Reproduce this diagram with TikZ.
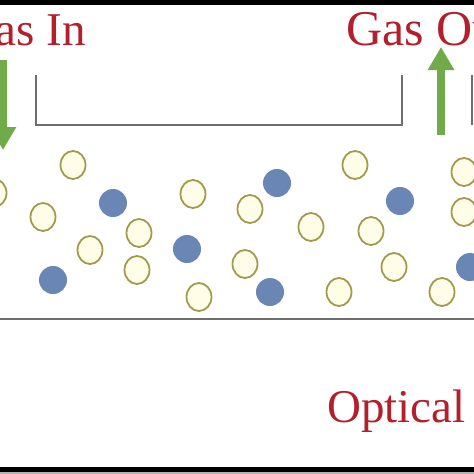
\documentclass[tikz,border=0pt]{standalone}
\usepackage{fontspec}
\setmainfont{Liberation Serif}
\usetikzlibrary{arrows.meta}

\definecolor{gasred}{HTML}{B3202C}
\definecolor{flowgreen}{HTML}{6FAB48}
\definecolor{molblue}{HTML}{6A86B4}
\definecolor{ringolive}{HTML}{A39A4E}
\definecolor{ringfill}{HTML}{FFFCE8}
\definecolor{wallgray}{HTML}{6E6E6E}

\tikzset{
  gastext/.style={text=gasred, font=\fontsize{47}{56}\selectfont, inner sep=0pt},
  flowarrow/.style={flowgreen, line width=8pt, -{Triangle[width=25pt,length=23pt]}},
  openmol/.style={draw=ringolive, fill=ringfill, line width=1.8pt},
  filledmol/.style={fill=molblue},
  cellwall/.style={wallgray, line width=2.2pt},
}

\begin{document}
\begin{tikzpicture}[x=1pt,y=-1pt]
  \useasboundingbox (0,0) rectangle (474,474);
  \clip (0,0) rectangle (474,474);
  \fill[white] (0,0) rectangle (474,474);

  % walls
  \draw[black, line width=5pt] (-5,2.5) -- (480,2.5);
  \draw[cellwall] (-5,319) -- (480,319);
  \draw[black, line width=5pt] (-5,469.5) -- (480,469.5);
  \fill[gray!60] (0,472) rectangle (474,474);

  % labels
  \node[gastext, anchor=base east] (gasin) at (86,45) {Gas In};
  \node[gastext, anchor=base west, font=\fontsize{50}{56}\selectfont] (gasout) at (346,45) {Gas Out};
  \node[gastext, anchor=base west] (optical) at (327,422) {Optical};

  % gas flow
  \coordinate (inA) at (3,60);
  \coordinate (inB) at (3,150);
  \coordinate (outA) at (441,135);
  \coordinate (outB) at (441,47);
  \draw[flowarrow] (inA) -- (inB);
  \draw[flowarrow] (outA) -- (outB);

  % bracket
  \draw[cellwall, line width=2pt] (36,75) -- (36,125) -- (402,125) -- (402,75);
  \draw[cellwall, line width=2pt] (472,75) -- (472,125);

  % molecules
  \foreach \x/\y in {73/165, -6/193, 43/217, 139/233, 90/250, 137/270, 199/297,
                     193/194, 355/165, 464/172, 250/209, 464/212, 311/227,
                     371/231, 245/264, 394/267, 339/292, 442/292}
    \draw[openmol] (\x,\y) ellipse [x radius=12.5, y radius=14];
  \foreach \x/\y in {113/203, 187/249, 53/280, 277/183, 400/201, 470/267, 270/292}
    \fill[filledmol] (\x,\y) circle [radius=14];
\end{tikzpicture}
\end{document}
